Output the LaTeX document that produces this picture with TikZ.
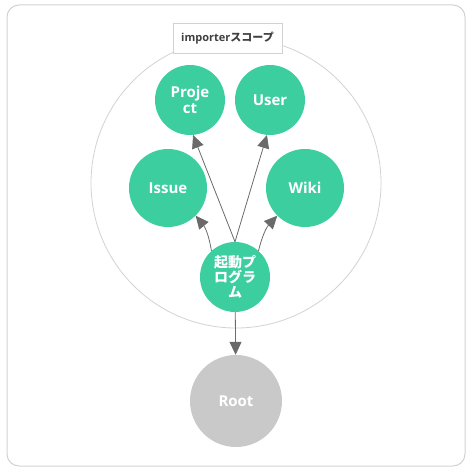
\documentclass[tikz,border=0pt]{standalone}
\usepackage{fontspec}
\setmainfont{Open Sans}
\newfontfamily\jpfont{Noto Sans CJK JP}
\usetikzlibrary{arrows.meta}
\definecolor{mint}{HTML}{3DCE9F}
\definecolor{rootgray}{HTML}{C9C9C9}
\definecolor{linegray}{HTML}{D2D2D2}
\definecolor{arrowgray}{HTML}{6A6A6A}

\begin{document}
\begin{tikzpicture}[
        x=1pt, y=-1pt,
        ball/.style={circle, fill=mint, text=white, inner sep=0pt, align=center,
            font=\fontsize{15}{16}\selectfont\bfseries},
        small/.style={ball, minimum size=70pt},
        big/.style={ball, minimum size=78pt},
        tag/.style={draw=linegray, fill=white, minimum width=109pt, minimum height=30pt,
            text=black!75, font=\fontsize{11}{13}\selectfont\bfseries},
        arrow/.style={-{Triangle[width=12pt,length=13pt]}, arrowgray, line width=0.8pt}
    ]
        \useasboundingbox (0,0) rectangle (474,476);
        \draw[linegray, line width=1pt, rounded corners=12pt] (7,5) rectangle (465,466);
        \node[circle, draw=linegray, line width=0.8pt, minimum size=290pt] (scope) at (236,183) {};
        \node[tag] (scopelabel) at (227.5,38) {importer{\jpfont スコープ}};
        \node[small] (project) at (190,100) {Proje\\ct};
        \node[small] (user) at (270,100) {User};
        \node[big] (issue) at (168,188) {Issue};
        \node[big] (wiki) at (305,188) {Wiki};
        \node[small, font=\fontsize{14}{15}\selectfont\jpfont\bfseries] (boot) at (235,277) {起動プ\\ログラ\\ム};
        \node[ball, fill=rootgray, minimum size=92pt] (root) at (236,401) {Root};
        \draw[arrow] (boot.north) -- (project.-85);
        \draw[arrow] (boot.north) -- (user.-95);
        \draw[arrow] (boot.132) to[bend right=15] (issue.-45);
        \draw[arrow] (boot.48) to[bend left=15] (wiki.-135);
        \draw[arrow] (boot) -- (root);
    \end{tikzpicture}
\end{document}
